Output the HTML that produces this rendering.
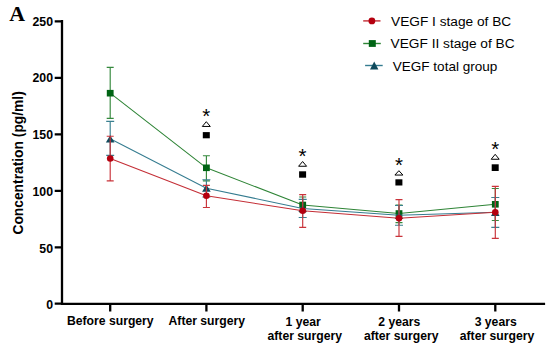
<!DOCTYPE html>
<html><head><meta charset="utf-8">
<style>
html,body{margin:0;padding:0;background:#fff;width:550px;height:355px;overflow:hidden}
svg{display:block}
.b{font-family:"Liberation Sans",sans-serif;font-weight:bold;fill:#000}
.r{font-family:"Liberation Sans",sans-serif;fill:#000}
</style></head><body>
<svg width="550" height="355" viewBox="0 0 550 355">
<text x="9.3" y="20.8" style="font-family:'Liberation Serif',serif;font-weight:bold;font-size:21.9px">A</text>
<g stroke="#000" stroke-width="2.3" fill="none">
  <path d="M62.0 20.1 V303.85 H545.1"/>
  <path d="M54.7 21.3 H62 M54.7 77.8 H62 M54.7 134.3 H62 M54.7 190.8 H62 M54.7 247.3 H62 M54.7 303.7 H62"/>
  <path d="M110.2 303.7 V311.5 M206.4 303.7 V311.5 M302.7 303.7 V311.5 M399 303.7 V311.5 M495.3 303.7 V311.5"/>
</g>
<g class="b" style="font-size:12.3px" text-anchor="end">
  <text x="53" y="25.7">250</text>
  <text x="53" y="82.4">200</text>
  <text x="53" y="139.2">150</text>
  <text x="53" y="195.9">100</text>
  <text x="53" y="252.5">50</text>
  <text x="53" y="309.1">0</text>
</g>
<text class="b" transform="translate(23.2 162.9) rotate(-90)" text-anchor="middle" style="font-size:13.8px">Concentration (pg/ml)</text>
<g class="b" style="font-size:12.2px" text-anchor="middle">
  <text x="110.3" y="325.4">Before surgery</text>
  <text x="206.8" y="325.4">After surgery</text>
  <text x="303.1" y="325.6">1 year</text>
  <text x="304.8" y="340.2">after surgery</text>
  <text x="399.3" y="325.6">2 years</text>
  <text x="401.2" y="340.2">after surgery</text>
  <text x="495.7" y="325.6">3 years</text>
  <text x="497" y="340.2">after surgery</text>
</g>
<g stroke="#35893d" stroke-width="1.15" fill="none"><path d="M110.2 67.4 V118.4 M106.70 67.4 H113.70 M106.70 118.4 H113.70 M206.4 155.7 V180.8 M202.90 155.7 H209.90 M202.90 180.8 H209.90 M302.7 197.0 V212.0 M299.20 197.0 H306.20 M299.20 212.0 H306.20 M399.0 205.1 V222.6 M395.50 205.1 H402.50 M395.50 222.6 H402.50 M495.3 188.5 V220.5 M491.80 188.5 H498.80 M491.80 220.5 H498.80"/></g>
<polyline points="110.2,93.2 206.4,167.8 302.7,205.0 399.0,213.5 495.3,204.3" stroke="#2e8436" stroke-width="1.05" fill="none" stroke-linejoin="round"/>
<rect x="106.80" y="89.90" width="6.8" height="6.6" fill="#006414"/><rect x="203.00" y="164.50" width="6.8" height="6.6" fill="#006414"/><rect x="299.30" y="201.70" width="6.8" height="6.6" fill="#006414"/><rect x="395.60" y="210.20" width="6.8" height="6.6" fill="#006414"/><rect x="491.90" y="201.00" width="6.8" height="6.6" fill="#006414"/>
<g stroke="#3a8090" stroke-width="1.15" fill="none"><path d="M110.2 121.4 V155.4 M106.20 121.4 H114.20 M106.20 155.4 H114.20 M206.4 179.7 V197.0 M202.40 179.7 H210.40 M202.40 197.0 H210.40 M302.7 199.4 V217.5 M298.70 199.4 H306.70 M298.70 217.5 H306.70 M399.0 205.5 V225.2 M395.00 205.5 H403.00 M395.00 225.2 H403.00 M495.3 197.5 V227.3 M491.30 197.5 H499.30 M491.30 227.3 H499.30"/></g>
<polyline points="110.2,138.8 206.4,188.2 302.7,208.5 399.0,215.3 495.3,212.3" stroke="#357c90" stroke-width="1.05" fill="none" stroke-linejoin="round"/>
<path d="M110.20 135.20 L114.50 142.40 H105.90Z" fill="#0f4a5c"/><path d="M206.40 184.60 L210.70 191.80 H202.10Z" fill="#0f4a5c"/><path d="M302.70 204.90 L307.00 212.10 H298.40Z" fill="#0f4a5c"/><path d="M399.00 211.70 L403.30 218.90 H394.70Z" fill="#0f4a5c"/><path d="M495.30 208.70 L499.60 215.90 H491.00Z" fill="#0f4a5c"/>
<g stroke="#c9333a" stroke-width="1.15" fill="none"><path d="M110.2 136.2 V180.8 M106.70 136.2 H113.70 M106.70 180.8 H113.70 M206.4 185.4 V207.5 M202.90 185.4 H209.90 M202.90 207.5 H209.90 M302.7 194.6 V227.3 M299.20 194.6 H306.20 M299.20 227.3 H306.20 M399.0 199.6 V236.3 M395.50 199.6 H402.50 M395.50 236.3 H402.50 M495.3 186.3 V238.4 M491.80 186.3 H498.80 M491.80 238.4 H498.80"/></g>
<polyline points="110.2,158.5 206.4,195.8 302.7,210.8 399.0,218.2 495.3,212.2" stroke="#c42e36" stroke-width="1.05" fill="none" stroke-linejoin="round"/>
<circle cx="110.2" cy="158.5" r="3.3" fill="#b5000f"/><circle cx="206.4" cy="195.8" r="3.3" fill="#b5000f"/><circle cx="302.7" cy="210.8" r="3.3" fill="#b5000f"/><circle cx="399.0" cy="218.2" r="3.3" fill="#b5000f"/><circle cx="495.3" cy="212.2" r="3.3" fill="#b5000f"/>
<text x="206.30" y="123.30" text-anchor="middle" style="font-family:'Liberation Sans',sans-serif;font-size:20.5px">*</text><path d="M206.30 121.70 L210.30 126.45 H202.30Z" stroke="#000" stroke-width="1.0" fill="none"/><rect x="202.80" y="132.10" width="7" height="6.20" fill="#000"/>
<text x="302.60" y="163.00" text-anchor="middle" style="font-family:'Liberation Sans',sans-serif;font-size:20.5px">*</text><path d="M302.60 161.50 L306.60 166.25 H298.60Z" stroke="#000" stroke-width="1.0" fill="none"/><rect x="299.10" y="171.30" width="7" height="6.40" fill="#000"/>
<text x="398.90" y="172.40" text-anchor="middle" style="font-family:'Liberation Sans',sans-serif;font-size:20.5px">*</text><path d="M398.90 170.70 L402.90 175.05 H394.90Z" stroke="#000" stroke-width="1.0" fill="none"/><rect x="395.40" y="179.30" width="7" height="6.20" fill="#000"/>
<text x="495.20" y="156.10" text-anchor="middle" style="font-family:'Liberation Sans',sans-serif;font-size:20.5px">*</text><path d="M495.20 154.30 L499.20 159.25 H491.20Z" stroke="#000" stroke-width="1.0" fill="none"/><rect x="491.70" y="164.30" width="7" height="6.70" fill="#000"/>


<path d="M363.2 20.9 H380.5" stroke="#c42e36" stroke-width="1.4"/>
<circle cx="371.9" cy="20.9" r="3.4" fill="#b5000f"/>
<text class="r" x="391.0" y="25.6" style="font-size:13.7px">VEGF I stage of BC</text>
<path d="M363.2 43.5 H380.8" stroke="#2e8436" stroke-width="1.4"/>
<rect x="368.80" y="40.10" width="7.0" height="6.8" fill="#006414"/>
<text class="r" x="390.6" y="47.6" style="font-size:13.7px">VEGF II stage of BC</text>
<path d="M365.1 65.5 H382.7" stroke="#357c90" stroke-width="1.4"/>
<path d="M374.20 61.50 L378.40 69.50 H370.00Z" fill="#0f4a5c"/>
<text class="r" x="392.7" y="71.0" style="font-size:13.55px">VEGF total group</text>

</svg>
</body></html>
